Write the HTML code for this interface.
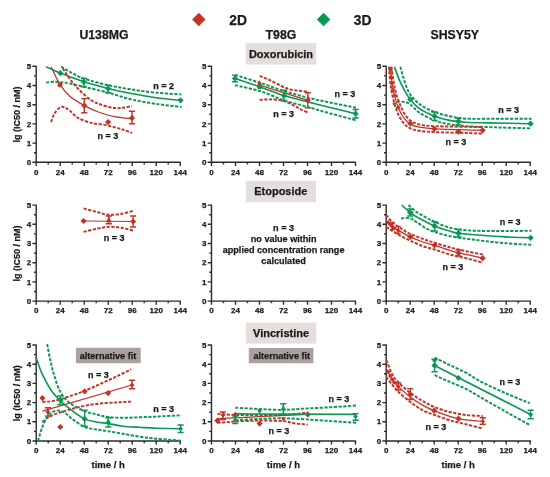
<!DOCTYPE html>
<html><head><meta charset="utf-8"><title>IC50 time course</title>
<style>
html,body{margin:0;padding:0;background:#fff;}
body{width:550px;height:477px;overflow:hidden;}
svg{display:block;filter:blur(0.3px);}
svg text{font-family:"Liberation Sans",Arial,Helvetica,sans-serif;font-weight:bold;fill:#1a1a1a;stroke:#1a1a1a;stroke-width:0.25px;}
</style></head><body>
<svg width="550" height="477" viewBox="0 0 550 477">
<rect width="550" height="477" fill="#ffffff"/>
<text x="104.0" y="39.2" font-size="12.3" text-anchor="middle">U138MG</text>
<text x="281.0" y="38.6" font-size="12.3" text-anchor="middle">T98G</text>
<text x="454.8" y="39.0" font-size="12.3" text-anchor="middle">SHSY5Y</text>
<path d="M198.8 12.8 l6.7 6.7 l-6.7 6.7 l-6.7 -6.7z" fill="#c23326"/>
<path d="M323.6 12.8 l6.7 6.7 l-6.7 6.7 l-6.7 -6.7z" fill="#0b9753"/>
<text x="229.3" y="24.7" font-size="13.8" text-anchor="start">2D</text>
<text x="353.8" y="24.7" font-size="13.8" text-anchor="start">3D</text>
<rect x="245.6" y="43.0" width="70.7" height="21.6" fill="#e4dedc"/>
<text x="281.0" y="57.6" font-size="11" text-anchor="middle">Doxorubicin</text>
<rect x="245.8" y="180.8" width="70.2" height="21.5" fill="#e4dedc"/>
<text x="280.8" y="195.4" font-size="11" text-anchor="middle">Etoposide</text>
<rect x="245.7" y="322.6" width="70.6" height="21.0" fill="#e4dedc"/>
<text x="281.1" y="336.9" font-size="11" text-anchor="middle">Vincristine</text>
<rect x="75.9" y="347.8" width="64.8" height="15.4" fill="#aca09e"/>
<text x="108.0" y="358.6" font-size="9.1" text-anchor="middle">alternative fit</text>
<rect x="248.8" y="348.0" width="64.6" height="15.2" fill="#aca09e"/>
<text x="281.8" y="358.6" font-size="9.1" text-anchor="middle">alternative fit</text>
<path d="M36.2 65.7V162.9M35.6 162.3H180.8M36.2 162.3v3.6M48.2 162.3v2.2M60.2 162.3v3.6M72.2 162.3v2.2M84.2 162.3v3.6M96.2 162.3v2.2M108.2 162.3v3.6M120.2 162.3v2.2M132.2 162.3v3.6M144.2 162.3v2.2M156.2 162.3v3.6M168.2 162.3v2.2M180.2 162.3v3.6M36.2 162.3h-3.8M36.2 152.7h-2.2M36.2 143.1h-3.8M36.2 133.5h-2.2M36.2 123.9h-3.8M36.2 114.3h-2.2M36.2 104.7h-3.8M36.2 95.1h-2.2M36.2 85.5h-3.8M36.2 75.9h-2.2M36.2 66.3h-3.8" fill="none" stroke="#2b2b2b" stroke-width="1.4"/>
<text x="36.2" y="174.5" font-size="8" text-anchor="middle">0</text>
<text x="60.2" y="174.5" font-size="8" text-anchor="middle">24</text>
<text x="84.2" y="174.5" font-size="8" text-anchor="middle">48</text>
<text x="108.2" y="174.5" font-size="8" text-anchor="middle">72</text>
<text x="132.2" y="174.5" font-size="8" text-anchor="middle">96</text>
<text x="156.2" y="174.5" font-size="8" text-anchor="middle">120</text>
<text x="180.2" y="174.5" font-size="8" text-anchor="middle">144</text>
<text x="31.2" y="164.9" font-size="8" text-anchor="end">0</text>
<text x="31.2" y="145.7" font-size="8" text-anchor="end">1</text>
<text x="31.2" y="126.5" font-size="8" text-anchor="end">2</text>
<text x="31.2" y="107.3" font-size="8" text-anchor="end">3</text>
<text x="31.2" y="88.1" font-size="8" text-anchor="end">4</text>
<text x="31.2" y="68.9" font-size="8" text-anchor="end">5</text>
<text transform="translate(19.9 114.6) rotate(-90)" font-size="9" text-anchor="middle">lg (IC50 / nM)</text>
<path d="M211.5 65.7V162.9M210.9 162.3H356.1M211.5 162.3v3.6M223.5 162.3v2.2M235.5 162.3v3.6M247.5 162.3v2.2M259.5 162.3v3.6M271.5 162.3v2.2M283.5 162.3v3.6M295.5 162.3v2.2M307.5 162.3v3.6M319.5 162.3v2.2M331.5 162.3v3.6M343.5 162.3v2.2M355.5 162.3v3.6M211.5 162.3h-3.8M211.5 152.7h-2.2M211.5 143.1h-3.8M211.5 133.5h-2.2M211.5 123.9h-3.8M211.5 114.3h-2.2M211.5 104.7h-3.8M211.5 95.1h-2.2M211.5 85.5h-3.8M211.5 75.9h-2.2M211.5 66.3h-3.8" fill="none" stroke="#2b2b2b" stroke-width="1.4"/>
<text x="211.5" y="174.5" font-size="8" text-anchor="middle">0</text>
<text x="235.5" y="174.5" font-size="8" text-anchor="middle">24</text>
<text x="259.5" y="174.5" font-size="8" text-anchor="middle">48</text>
<text x="283.5" y="174.5" font-size="8" text-anchor="middle">72</text>
<text x="307.5" y="174.5" font-size="8" text-anchor="middle">96</text>
<text x="331.5" y="174.5" font-size="8" text-anchor="middle">120</text>
<text x="355.5" y="174.5" font-size="8" text-anchor="middle">144</text>
<text x="206.5" y="164.9" font-size="8" text-anchor="end">0</text>
<text x="206.5" y="145.7" font-size="8" text-anchor="end">1</text>
<text x="206.5" y="126.5" font-size="8" text-anchor="end">2</text>
<text x="206.5" y="107.3" font-size="8" text-anchor="end">3</text>
<text x="206.5" y="88.1" font-size="8" text-anchor="end">4</text>
<text x="206.5" y="68.9" font-size="8" text-anchor="end">5</text>
<path d="M386.2 65.7V162.9M385.6 162.3H530.8M386.2 162.3v3.6M398.2 162.3v2.2M410.2 162.3v3.6M422.2 162.3v2.2M434.2 162.3v3.6M446.2 162.3v2.2M458.2 162.3v3.6M470.2 162.3v2.2M482.2 162.3v3.6M494.2 162.3v2.2M506.2 162.3v3.6M518.2 162.3v2.2M530.2 162.3v3.6M386.2 162.3h-3.8M386.2 152.7h-2.2M386.2 143.1h-3.8M386.2 133.5h-2.2M386.2 123.9h-3.8M386.2 114.3h-2.2M386.2 104.7h-3.8M386.2 95.1h-2.2M386.2 85.5h-3.8M386.2 75.9h-2.2M386.2 66.3h-3.8" fill="none" stroke="#2b2b2b" stroke-width="1.4"/>
<text x="386.2" y="174.5" font-size="8" text-anchor="middle">0</text>
<text x="410.2" y="174.5" font-size="8" text-anchor="middle">24</text>
<text x="434.2" y="174.5" font-size="8" text-anchor="middle">48</text>
<text x="458.2" y="174.5" font-size="8" text-anchor="middle">72</text>
<text x="482.2" y="174.5" font-size="8" text-anchor="middle">96</text>
<text x="506.2" y="174.5" font-size="8" text-anchor="middle">120</text>
<text x="530.2" y="174.5" font-size="8" text-anchor="middle">144</text>
<text x="381.2" y="164.9" font-size="8" text-anchor="end">0</text>
<text x="381.2" y="145.7" font-size="8" text-anchor="end">1</text>
<text x="381.2" y="126.5" font-size="8" text-anchor="end">2</text>
<text x="381.2" y="107.3" font-size="8" text-anchor="end">3</text>
<text x="381.2" y="88.1" font-size="8" text-anchor="end">4</text>
<text x="381.2" y="68.9" font-size="8" text-anchor="end">5</text>
<path d="M36.2 204.5V301.7M35.6 301.1H180.8M36.2 301.1v3.6M48.2 301.1v2.2M60.2 301.1v3.6M72.2 301.1v2.2M84.2 301.1v3.6M96.2 301.1v2.2M108.2 301.1v3.6M120.2 301.1v2.2M132.2 301.1v3.6M144.2 301.1v2.2M156.2 301.1v3.6M168.2 301.1v2.2M180.2 301.1v3.6M36.2 301.1h-3.8M36.2 291.5h-2.2M36.2 281.9h-3.8M36.2 272.3h-2.2M36.2 262.7h-3.8M36.2 253.1h-2.2M36.2 243.5h-3.8M36.2 233.9h-2.2M36.2 224.3h-3.8M36.2 214.7h-2.2M36.2 205.1h-3.8" fill="none" stroke="#2b2b2b" stroke-width="1.4"/>
<text x="36.2" y="313.3" font-size="8" text-anchor="middle">0</text>
<text x="60.2" y="313.3" font-size="8" text-anchor="middle">24</text>
<text x="84.2" y="313.3" font-size="8" text-anchor="middle">48</text>
<text x="108.2" y="313.3" font-size="8" text-anchor="middle">72</text>
<text x="132.2" y="313.3" font-size="8" text-anchor="middle">96</text>
<text x="156.2" y="313.3" font-size="8" text-anchor="middle">120</text>
<text x="180.2" y="313.3" font-size="8" text-anchor="middle">144</text>
<text x="31.2" y="303.7" font-size="8" text-anchor="end">0</text>
<text x="31.2" y="284.5" font-size="8" text-anchor="end">1</text>
<text x="31.2" y="265.3" font-size="8" text-anchor="end">2</text>
<text x="31.2" y="246.1" font-size="8" text-anchor="end">3</text>
<text x="31.2" y="226.9" font-size="8" text-anchor="end">4</text>
<text x="31.2" y="207.7" font-size="8" text-anchor="end">5</text>
<text transform="translate(19.9 253.4) rotate(-90)" font-size="9" text-anchor="middle">lg (IC50 / nM)</text>
<path d="M211.5 204.5V301.7M210.9 301.1H356.1M211.5 301.1v3.6M223.5 301.1v2.2M235.5 301.1v3.6M247.5 301.1v2.2M259.5 301.1v3.6M271.5 301.1v2.2M283.5 301.1v3.6M295.5 301.1v2.2M307.5 301.1v3.6M319.5 301.1v2.2M331.5 301.1v3.6M343.5 301.1v2.2M355.5 301.1v3.6M211.5 301.1h-3.8M211.5 291.5h-2.2M211.5 281.9h-3.8M211.5 272.3h-2.2M211.5 262.7h-3.8M211.5 253.1h-2.2M211.5 243.5h-3.8M211.5 233.9h-2.2M211.5 224.3h-3.8M211.5 214.7h-2.2M211.5 205.1h-3.8" fill="none" stroke="#2b2b2b" stroke-width="1.4"/>
<text x="211.5" y="313.3" font-size="8" text-anchor="middle">0</text>
<text x="235.5" y="313.3" font-size="8" text-anchor="middle">24</text>
<text x="259.5" y="313.3" font-size="8" text-anchor="middle">48</text>
<text x="283.5" y="313.3" font-size="8" text-anchor="middle">72</text>
<text x="307.5" y="313.3" font-size="8" text-anchor="middle">96</text>
<text x="331.5" y="313.3" font-size="8" text-anchor="middle">120</text>
<text x="355.5" y="313.3" font-size="8" text-anchor="middle">144</text>
<text x="206.5" y="303.7" font-size="8" text-anchor="end">0</text>
<text x="206.5" y="284.5" font-size="8" text-anchor="end">1</text>
<text x="206.5" y="265.3" font-size="8" text-anchor="end">2</text>
<text x="206.5" y="246.1" font-size="8" text-anchor="end">3</text>
<text x="206.5" y="226.9" font-size="8" text-anchor="end">4</text>
<text x="206.5" y="207.7" font-size="8" text-anchor="end">5</text>
<path d="M386.2 204.5V301.7M385.6 301.1H530.8M386.2 301.1v3.6M398.2 301.1v2.2M410.2 301.1v3.6M422.2 301.1v2.2M434.2 301.1v3.6M446.2 301.1v2.2M458.2 301.1v3.6M470.2 301.1v2.2M482.2 301.1v3.6M494.2 301.1v2.2M506.2 301.1v3.6M518.2 301.1v2.2M530.2 301.1v3.6M386.2 301.1h-3.8M386.2 291.5h-2.2M386.2 281.9h-3.8M386.2 272.3h-2.2M386.2 262.7h-3.8M386.2 253.1h-2.2M386.2 243.5h-3.8M386.2 233.9h-2.2M386.2 224.3h-3.8M386.2 214.7h-2.2M386.2 205.1h-3.8" fill="none" stroke="#2b2b2b" stroke-width="1.4"/>
<text x="386.2" y="313.3" font-size="8" text-anchor="middle">0</text>
<text x="410.2" y="313.3" font-size="8" text-anchor="middle">24</text>
<text x="434.2" y="313.3" font-size="8" text-anchor="middle">48</text>
<text x="458.2" y="313.3" font-size="8" text-anchor="middle">72</text>
<text x="482.2" y="313.3" font-size="8" text-anchor="middle">96</text>
<text x="506.2" y="313.3" font-size="8" text-anchor="middle">120</text>
<text x="530.2" y="313.3" font-size="8" text-anchor="middle">144</text>
<text x="381.2" y="303.7" font-size="8" text-anchor="end">0</text>
<text x="381.2" y="284.5" font-size="8" text-anchor="end">1</text>
<text x="381.2" y="265.3" font-size="8" text-anchor="end">2</text>
<text x="381.2" y="246.1" font-size="8" text-anchor="end">3</text>
<text x="381.2" y="226.9" font-size="8" text-anchor="end">4</text>
<text x="381.2" y="207.7" font-size="8" text-anchor="end">5</text>
<path d="M36.2 344.4V441.6M35.6 441.0H180.8M36.2 441.0v3.6M48.2 441.0v2.2M60.2 441.0v3.6M72.2 441.0v2.2M84.2 441.0v3.6M96.2 441.0v2.2M108.2 441.0v3.6M120.2 441.0v2.2M132.2 441.0v3.6M144.2 441.0v2.2M156.2 441.0v3.6M168.2 441.0v2.2M180.2 441.0v3.6M36.2 441.0h-3.8M36.2 431.4h-2.2M36.2 421.8h-3.8M36.2 412.2h-2.2M36.2 402.6h-3.8M36.2 393.0h-2.2M36.2 383.4h-3.8M36.2 373.8h-2.2M36.2 364.2h-3.8M36.2 354.6h-2.2M36.2 345.0h-3.8" fill="none" stroke="#2b2b2b" stroke-width="1.4"/>
<text x="36.2" y="453.2" font-size="8" text-anchor="middle">0</text>
<text x="60.2" y="453.2" font-size="8" text-anchor="middle">24</text>
<text x="84.2" y="453.2" font-size="8" text-anchor="middle">48</text>
<text x="108.2" y="453.2" font-size="8" text-anchor="middle">72</text>
<text x="132.2" y="453.2" font-size="8" text-anchor="middle">96</text>
<text x="156.2" y="453.2" font-size="8" text-anchor="middle">120</text>
<text x="180.2" y="453.2" font-size="8" text-anchor="middle">144</text>
<text x="31.2" y="443.6" font-size="8" text-anchor="end">0</text>
<text x="31.2" y="424.4" font-size="8" text-anchor="end">1</text>
<text x="31.2" y="405.2" font-size="8" text-anchor="end">2</text>
<text x="31.2" y="386.0" font-size="8" text-anchor="end">3</text>
<text x="31.2" y="366.8" font-size="8" text-anchor="end">4</text>
<text x="31.2" y="347.6" font-size="8" text-anchor="end">5</text>
<text transform="translate(19.9 393.3) rotate(-90)" font-size="9" text-anchor="middle">lg (IC50 / nM)</text>
<text x="108.2" y="468.0" font-size="9.5" text-anchor="middle">time / h</text>
<path d="M211.5 344.4V441.6M210.9 441.0H356.1M211.5 441.0v3.6M223.5 441.0v2.2M235.5 441.0v3.6M247.5 441.0v2.2M259.5 441.0v3.6M271.5 441.0v2.2M283.5 441.0v3.6M295.5 441.0v2.2M307.5 441.0v3.6M319.5 441.0v2.2M331.5 441.0v3.6M343.5 441.0v2.2M355.5 441.0v3.6M211.5 441.0h-3.8M211.5 431.4h-2.2M211.5 421.8h-3.8M211.5 412.2h-2.2M211.5 402.6h-3.8M211.5 393.0h-2.2M211.5 383.4h-3.8M211.5 373.8h-2.2M211.5 364.2h-3.8M211.5 354.6h-2.2M211.5 345.0h-3.8" fill="none" stroke="#2b2b2b" stroke-width="1.4"/>
<text x="211.5" y="453.2" font-size="8" text-anchor="middle">0</text>
<text x="235.5" y="453.2" font-size="8" text-anchor="middle">24</text>
<text x="259.5" y="453.2" font-size="8" text-anchor="middle">48</text>
<text x="283.5" y="453.2" font-size="8" text-anchor="middle">72</text>
<text x="307.5" y="453.2" font-size="8" text-anchor="middle">96</text>
<text x="331.5" y="453.2" font-size="8" text-anchor="middle">120</text>
<text x="355.5" y="453.2" font-size="8" text-anchor="middle">144</text>
<text x="206.5" y="443.6" font-size="8" text-anchor="end">0</text>
<text x="206.5" y="424.4" font-size="8" text-anchor="end">1</text>
<text x="206.5" y="405.2" font-size="8" text-anchor="end">2</text>
<text x="206.5" y="386.0" font-size="8" text-anchor="end">3</text>
<text x="206.5" y="366.8" font-size="8" text-anchor="end">4</text>
<text x="206.5" y="347.6" font-size="8" text-anchor="end">5</text>
<text x="283.5" y="468.0" font-size="9.5" text-anchor="middle">time / h</text>
<path d="M386.2 344.4V441.6M385.6 441.0H530.8M386.2 441.0v3.6M398.2 441.0v2.2M410.2 441.0v3.6M422.2 441.0v2.2M434.2 441.0v3.6M446.2 441.0v2.2M458.2 441.0v3.6M470.2 441.0v2.2M482.2 441.0v3.6M494.2 441.0v2.2M506.2 441.0v3.6M518.2 441.0v2.2M530.2 441.0v3.6M386.2 441.0h-3.8M386.2 431.4h-2.2M386.2 421.8h-3.8M386.2 412.2h-2.2M386.2 402.6h-3.8M386.2 393.0h-2.2M386.2 383.4h-3.8M386.2 373.8h-2.2M386.2 364.2h-3.8M386.2 354.6h-2.2M386.2 345.0h-3.8" fill="none" stroke="#2b2b2b" stroke-width="1.4"/>
<text x="386.2" y="453.2" font-size="8" text-anchor="middle">0</text>
<text x="410.2" y="453.2" font-size="8" text-anchor="middle">24</text>
<text x="434.2" y="453.2" font-size="8" text-anchor="middle">48</text>
<text x="458.2" y="453.2" font-size="8" text-anchor="middle">72</text>
<text x="482.2" y="453.2" font-size="8" text-anchor="middle">96</text>
<text x="506.2" y="453.2" font-size="8" text-anchor="middle">120</text>
<text x="530.2" y="453.2" font-size="8" text-anchor="middle">144</text>
<text x="381.2" y="443.6" font-size="8" text-anchor="end">0</text>
<text x="381.2" y="424.4" font-size="8" text-anchor="end">1</text>
<text x="381.2" y="405.2" font-size="8" text-anchor="end">2</text>
<text x="381.2" y="386.0" font-size="8" text-anchor="end">3</text>
<text x="381.2" y="366.8" font-size="8" text-anchor="end">4</text>
<text x="381.2" y="347.6" font-size="8" text-anchor="end">5</text>
<text x="458.2" y="468.0" font-size="9.5" text-anchor="middle">time / h</text>
<path d="M61.2 66.7 C62.6 67.5 65.7 69.8 69.5 71.7 C73.3 73.7 77.4 76.2 83.8 78.4 C90.2 80.7 100.2 83.4 108.1 85.2 C116.0 87.0 123.2 88.2 131.2 89.4 C139.2 90.7 147.9 91.9 156.3 92.7 C164.7 93.5 177.3 94.1 181.5 94.4" fill="none" stroke="#0b9753" stroke-width="1.95" stroke-dasharray="3.2 1.5"/>
<path d="M46.1 82.6 C47.2 82.5 50.4 81.9 52.8 81.8 C55.2 81.7 57.5 81.8 60.3 82.1 C63.1 82.4 65.6 82.7 69.5 83.5 C73.4 84.3 77.4 85.3 83.8 86.8 C90.2 88.3 100.2 90.6 108.1 92.7 C116.0 94.8 123.2 97.5 131.2 99.4 C139.2 101.3 147.9 102.6 156.3 103.9 C164.7 105.2 177.3 106.5 181.5 107.0" fill="none" stroke="#0b9753" stroke-width="1.95" stroke-dasharray="3.2 1.5"/>
<path d="M46.1 66.7 C48.5 67.8 54.0 70.6 60.3 73.1 C66.6 75.6 75.8 79.2 83.8 81.8 C91.8 84.4 100.2 86.5 108.1 88.5 C116.0 90.5 123.2 92.0 131.2 93.5 C139.2 95.0 148.1 96.6 156.3 97.7 C164.5 98.8 176.6 99.9 180.6 100.3" fill="none" stroke="#0b9753" stroke-width="1.6"/>
<path d="M62.8 68.4 C63.9 70.1 67.0 75.1 69.5 78.4 C72.0 81.8 74.3 84.8 77.9 88.5 C81.5 92.2 87.1 97.5 91.3 100.3 C95.5 103.1 99.2 104.0 103.1 105.3 C106.9 106.6 111.1 107.6 114.4 108.0 C117.7 108.4 119.9 108.1 122.8 107.8 C125.7 107.5 130.5 106.4 132.0 106.1" fill="none" stroke="#c23326" stroke-width="1.95" stroke-dasharray="3.2 1.5"/>
<path d="M51.1 122.1 C51.6 120.7 53.0 116.1 54.4 113.7 C55.8 111.3 58.0 108.9 59.5 107.8 C61.0 106.7 62.0 106.6 63.7 107.0 C65.4 107.4 67.1 108.5 69.5 110.3 C71.9 112.1 74.3 115.8 77.9 117.9 C81.5 120.0 87.1 121.8 91.3 122.9 C95.5 124.0 99.2 123.9 103.1 124.6 C106.9 125.3 111.1 126.3 114.4 127.1 C117.7 127.9 119.9 128.6 122.8 129.6 C125.7 130.6 130.5 132.4 132.0 133.0" fill="none" stroke="#c23326" stroke-width="1.95" stroke-dasharray="3.2 1.5"/>
<path d="M51.1 66.7 C52.6 69.7 56.9 79.8 60.0 84.7 C63.1 89.6 65.5 92.5 69.5 96.0 C73.5 99.5 79.3 102.8 84.3 105.6 C89.3 108.3 94.4 110.6 99.7 112.5 C105.0 114.4 110.6 115.9 116.0 116.9 C121.4 117.9 129.3 118.4 132.0 118.7" fill="none" stroke="#c23326" stroke-width="1.25"/>
<path d="M84.3 98.6V112.8M81.2 98.6h6.2M81.2 112.8h6.2" fill="none" stroke="#c23326" stroke-width="1.45"/>
<path d="M132.0 111.2V123.7M128.9 111.2h6.2M128.9 123.7h6.2" fill="none" stroke="#c23326" stroke-width="1.45"/>
<circle cx="60.0" cy="84.7" r="2.5" fill="#c23326"/>
<path d="M84.3 102.5 l3.1 3.1 l-3.1 3.1 l-3.1 -3.1z" fill="#c23326"/>
<path d="M108.1 119.0 l3.1 3.1 l-3.1 3.1 l-3.1 -3.1z" fill="#c23326"/>
<path d="M132.0 114.8 l3.1 3.1 l-3.1 3.1 l-3.1 -3.1z" fill="#c23326"/>
<path d="M83.8 78.4V86.8M80.7 78.4h6.2M80.7 86.8h6.2" fill="none" stroke="#0b9753" stroke-width="1.45"/>
<path d="M108.1 85.2V92.7M105.0 85.2h6.2M105.0 92.7h6.2" fill="none" stroke="#0b9753" stroke-width="1.45"/>
<path d="M60.3 70.0 l3.1 3.1 l-3.1 3.1 l-3.1 -3.1z" fill="#0b9753"/>
<path d="M83.8 78.7 l3.1 3.1 l-3.1 3.1 l-3.1 -3.1z" fill="#0b9753"/>
<path d="M108.1 85.4 l3.1 3.1 l-3.1 3.1 l-3.1 -3.1z" fill="#0b9753"/>
<path d="M180.6 97.2 l3.1 3.1 l-3.1 3.1 l-3.1 -3.1z" fill="#0b9753"/>
<text x="163.7" y="88.7" font-size="9" text-anchor="middle">n = 2</text>
<text x="108.0" y="138.9" font-size="9" text-anchor="middle">n = 3</text>
<path d="M259.6 75.9 C261.3 76.6 266.1 78.4 269.7 80.1 C273.3 81.8 277.8 84.4 281.4 86.0 C284.9 87.6 287.7 88.8 291.0 89.6 C294.3 90.4 298.1 90.6 301.0 91.0 C303.9 91.4 307.4 91.8 308.7 91.9" fill="none" stroke="#c23326" stroke-width="1.95" stroke-dasharray="3.2 1.5"/>
<path d="M259.6 99.9 C261.3 99.8 266.1 99.3 269.7 99.4 C273.3 99.5 277.8 99.5 281.4 100.3 C284.9 101.1 287.7 102.5 291.0 104.0 C294.3 105.5 298.1 108.0 301.0 109.5 C303.9 111.0 307.4 112.2 308.7 112.8" fill="none" stroke="#c23326" stroke-width="1.95" stroke-dasharray="3.2 1.5"/>
<path d="M259.6 85.2 L307.8 100.3" fill="none" stroke="#c23326" stroke-width="1.25"/>
<path d="M307.8 92.7V107.8M304.7 92.7h6.2M304.7 107.8h6.2" fill="none" stroke="#c23326" stroke-width="1.45"/>
<path d="M235.0 75.1 C239.1 76.3 251.4 79.9 259.6 82.6 C267.8 85.2 276.0 88.5 284.0 91.0 C292.0 93.5 299.9 95.7 307.8 97.7 C315.7 99.7 323.2 101.1 331.3 102.8 C339.4 104.5 352.3 107.0 356.5 107.8" fill="none" stroke="#0b9753" stroke-width="1.95" stroke-dasharray="3.2 1.5"/>
<path d="M235.0 85.2 C239.1 86.2 251.4 88.5 259.6 91.0 C267.8 93.5 276.0 97.6 284.0 100.3 C292.0 103.0 299.9 104.8 307.8 107.0 C315.7 109.2 323.2 111.5 331.3 113.7 C339.4 115.9 352.3 119.3 356.5 120.4" fill="none" stroke="#0b9753" stroke-width="1.95" stroke-dasharray="3.2 1.5"/>
<path d="M235.0 78.4 C239.1 79.8 251.4 83.9 259.6 86.8 C267.8 89.7 276.0 93.1 284.0 95.6 C292.0 98.1 299.9 99.9 307.8 101.9 C315.7 103.9 323.3 105.8 331.3 107.8 C339.3 109.8 351.6 112.7 355.6 113.7" fill="none" stroke="#0b9753" stroke-width="1.6"/>
<path d="M235.0 75.1V81.8M231.9 75.1h6.2M231.9 81.8h6.2" fill="none" stroke="#0b9753" stroke-width="1.45"/>
<path d="M284.0 90.2V101.1M280.9 90.2h6.2M280.9 101.1h6.2" fill="none" stroke="#0b9753" stroke-width="1.45"/>
<path d="M355.6 109.5V117.9M352.5 109.5h6.2M352.5 117.9h6.2" fill="none" stroke="#0b9753" stroke-width="1.45"/>
<path d="M235.0 75.3 l3.1 3.1 l-3.1 3.1 l-3.1 -3.1z" fill="#0b9753"/>
<circle cx="259.6" cy="86.6" r="2.6" fill="#0b9753"/>
<path d="M284.0 92.5 l3.1 3.1 l-3.1 3.1 l-3.1 -3.1z" fill="#0b9753"/>
<path d="M355.6 110.6 l3.1 3.1 l-3.1 3.1 l-3.1 -3.1z" fill="#0b9753"/>
<path d="M259.6 80.3 l2.5 4.5 h-5.0z" fill="#c23326"/>
<path d="M307.8 97.2 l3.1 3.1 l-3.1 3.1 l-3.1 -3.1z" fill="#c23326"/>
<text x="345.0" y="96.9" font-size="9" text-anchor="middle">n = 3</text>
<text x="283.7" y="116.7" font-size="9" text-anchor="middle">n = 3</text>
<path d="M400.3 66.7 C400.9 68.7 402.4 74.5 403.6 78.4 C404.9 82.3 406.3 87.0 407.8 90.2 C409.3 93.4 410.6 95.2 412.8 97.7 C415.0 100.2 417.6 102.9 421.2 105.3 C424.8 107.7 429.9 110.2 434.6 112.0 C439.4 113.8 444.5 115.1 449.7 116.2 C454.9 117.3 457.9 118.3 466.0 118.7 C474.1 119.1 487.1 118.7 498.0 118.7 C508.9 118.7 525.9 118.7 531.5 118.7" fill="none" stroke="#0b9753" stroke-width="1.95" stroke-dasharray="3.2 1.5"/>
<path d="M392.7 104.4 C393.5 104.0 395.8 102.3 397.7 101.9 C399.6 101.5 402.3 101.5 404.4 101.9 C406.5 102.3 407.8 102.6 410.3 104.4 C412.8 106.2 415.4 110.1 419.5 112.8 C423.6 115.5 429.6 118.5 434.6 120.4 C439.6 122.3 444.5 123.4 449.7 124.4 C454.9 125.4 457.9 125.7 466.0 126.2 C474.1 126.7 487.1 127.0 498.0 127.4 C508.9 127.8 525.9 128.2 531.5 128.4" fill="none" stroke="#0b9753" stroke-width="1.95" stroke-dasharray="3.2 1.5"/>
<path d="M394.4 66.7 C395.2 68.9 397.7 76.2 399.4 80.1 C401.1 84.0 402.6 87.0 404.4 90.2 C406.2 93.4 407.8 96.3 410.3 99.4 C412.8 102.5 415.4 105.8 419.5 108.6 C423.6 111.4 429.6 114.2 434.6 116.2 C439.6 118.2 444.5 119.4 449.7 120.4 C454.9 121.4 459.4 121.9 466.0 122.3 C472.6 122.7 478.7 122.7 489.5 122.9 C500.3 123.1 523.8 123.6 530.6 123.7" fill="none" stroke="#0b9753" stroke-width="1.6"/>
<path d="M391.4 66.7 C391.8 69.2 392.8 77.3 393.6 81.8 C394.4 86.3 395.0 89.6 396.1 93.5 C397.2 97.4 398.6 101.5 400.3 105.3 C402.0 109.1 404.0 113.4 406.1 116.2 C408.2 119.0 410.0 120.6 412.8 122.1 C415.6 123.6 419.0 124.4 422.9 125.1 C426.8 125.8 429.1 125.9 436.3 126.2 C443.5 126.5 458.2 126.7 466.0 126.8 C473.8 126.9 480.0 127.0 482.8 127.1" fill="none" stroke="#c23326" stroke-width="1.95" stroke-dasharray="3.2 1.5"/>
<path d="M389.0 66.7 C389.2 69.2 389.6 76.8 390.2 81.8 C390.8 86.8 391.6 92.0 392.7 96.9 C393.8 101.8 395.2 107.0 396.9 111.2 C398.6 115.4 400.7 119.3 402.8 122.1 C404.9 124.9 406.7 126.5 409.5 127.9 C412.3 129.4 415.3 130.1 419.5 130.8 C423.7 131.5 426.9 131.7 434.6 132.1 C442.4 132.5 458.0 132.8 466.0 133.0 C474.0 133.2 480.0 133.5 482.8 133.6" fill="none" stroke="#c23326" stroke-width="1.95" stroke-dasharray="3.2 1.5"/>
<path d="M390.2 66.7 C390.5 69.2 391.2 77.0 391.9 81.8 C392.6 86.5 393.3 90.7 394.4 95.2 C395.5 99.7 396.9 104.7 398.6 108.6 C400.3 112.5 402.3 116.0 404.4 118.7 C406.5 121.4 408.7 123.2 411.2 124.6 C413.7 126.0 415.6 126.4 419.5 127.1 C423.4 127.8 426.9 128.4 434.6 128.8 C442.4 129.2 458.0 129.6 466.0 129.8 C474.0 130.1 480.0 130.2 482.8 130.3" fill="none" stroke="#c23326" stroke-width="1.25"/>
<path d="M390.5 67.7 l2.3 2.3 l-2.3 2.3 l-2.3 -2.3z" fill="#c23326"/>
<path d="M391.2 74.7 l2.3 2.3 l-2.3 2.3 l-2.3 -2.3z" fill="#c23326"/>
<path d="M392.0 81.2 l2.3 2.3 l-2.3 2.3 l-2.3 -2.3z" fill="#c23326"/>
<path d="M393.0 87.7 l2.3 2.3 l-2.3 2.3 l-2.3 -2.3z" fill="#c23326"/>
<path d="M394.5 93.2 l2.3 2.3 l-2.3 2.3 l-2.3 -2.3z" fill="#c23326"/>
<path d="M398.2 105.2 l2.3 2.3 l-2.3 2.3 l-2.3 -2.3z" fill="#c23326"/>
<path d="M410.3 120.4 l3.1 3.1 l-3.1 3.1 l-3.1 -3.1z" fill="#c23326"/>
<path d="M434.2 125.7 l3.1 3.1 l-3.1 3.1 l-3.1 -3.1z" fill="#c23326"/>
<path d="M458.5 128.5 l3.1 3.1 l-3.1 3.1 l-3.1 -3.1z" fill="#c23326"/>
<path d="M482.6 127.2 l3.1 3.1 l-3.1 3.1 l-3.1 -3.1z" fill="#c23326"/>
<path d="M434.6 112.0V120.4M431.5 112.0h6.2M431.5 120.4h6.2" fill="none" stroke="#0b9753" stroke-width="1.45"/>
<path d="M458.4 117.9V124.6M455.3 117.9h6.2M455.3 124.6h6.2" fill="none" stroke="#0b9753" stroke-width="1.45"/>
<path d="M410.3 96.3 l3.1 3.1 l-3.1 3.1 l-3.1 -3.1z" fill="#0b9753"/>
<path d="M434.6 113.1 l3.1 3.1 l-3.1 3.1 l-3.1 -3.1z" fill="#0b9753"/>
<path d="M458.4 118.1 l3.1 3.1 l-3.1 3.1 l-3.1 -3.1z" fill="#0b9753"/>
<path d="M530.6 120.6 l3.1 3.1 l-3.1 3.1 l-3.1 -3.1z" fill="#0b9753"/>
<text x="508.6" y="113.3" font-size="9" text-anchor="middle">n = 3</text>
<text x="455.9" y="145.4" font-size="9" text-anchor="middle">n = 3</text>
<path d="M83.6 208.4 C85.7 209.0 92.0 210.7 96.2 211.8 C100.4 212.9 104.6 214.5 108.8 214.8 C113.0 215.1 117.2 214.5 121.3 213.8 C125.3 213.2 131.1 211.4 133.1 210.9" fill="none" stroke="#c23326" stroke-width="1.95" stroke-dasharray="3.2 1.5"/>
<path d="M83.6 231.9 C85.7 231.4 92.0 229.7 96.2 228.9 C100.4 228.1 104.6 227.1 108.8 226.9 C113.0 226.7 117.2 227.1 121.3 227.7 C125.3 228.3 131.1 230.1 133.1 230.6" fill="none" stroke="#c23326" stroke-width="1.95" stroke-dasharray="3.2 1.5"/>
<path d="M83.6 221.0 L133.1 221.5" fill="none" stroke="#c23326" stroke-width="1.25"/>
<path d="M108.8 216.0V223.8M105.7 216.0h6.2M105.7 223.8h6.2" fill="none" stroke="#c23326" stroke-width="1.45"/>
<path d="M133.1 216.0V226.9M130.0 216.0h6.2M130.0 226.9h6.2" fill="none" stroke="#c23326" stroke-width="1.45"/>
<path d="M83.6 217.9 l3.1 3.1 l-3.1 3.1 l-3.1 -3.1z" fill="#c23326"/>
<path d="M108.8 216.8 l3.0 5.4 h-6.0z" fill="#c23326"/>
<path d="M133.1 218.4 l3.1 3.1 l-3.1 3.1 l-3.1 -3.1z" fill="#c23326"/>
<text x="114.2" y="241.1" font-size="9" text-anchor="middle">n = 3</text>
<text x="283.6" y="231.1" font-size="9.1" text-anchor="middle">n = 3</text>
<text x="283.6" y="241.9" font-size="9.1" text-anchor="middle">no value within</text>
<text x="283.6" y="252.7" font-size="9.1" text-anchor="middle">applied concentration range</text>
<text x="283.6" y="263.6" font-size="9.1" text-anchor="middle">calculated</text>
<path d="M408.6 205.1 C409.9 206.2 413.2 209.7 416.2 211.8 C419.1 213.9 423.2 215.9 426.3 217.6 C429.4 219.3 430.7 220.1 434.6 221.8 C438.5 223.5 444.5 226.3 449.7 227.7 C454.9 229.1 460.8 229.7 466.0 230.2 C471.2 230.7 474.5 230.8 481.2 230.9 C487.9 231.1 497.9 231.1 506.3 231.1 C514.7 231.1 527.3 230.8 531.5 230.7" fill="none" stroke="#0b9753" stroke-width="1.95" stroke-dasharray="3.2 1.5"/>
<path d="M401.1 218.5 C402.5 218.4 407.0 217.5 409.5 218.1 C412.0 218.7 413.4 220.1 416.2 221.8 C419.0 223.5 423.2 226.8 426.3 228.5 C429.4 230.2 430.7 230.6 434.6 231.9 C438.5 233.2 444.5 235.0 449.7 236.1 C454.9 237.2 460.8 237.9 466.0 238.7 C471.2 239.4 474.5 239.8 481.2 240.6 C487.9 241.4 497.9 242.6 506.3 243.3 C514.7 244.0 527.3 244.6 531.5 244.8" fill="none" stroke="#0b9753" stroke-width="1.95" stroke-dasharray="3.2 1.5"/>
<path d="M401.9 205.1 C403.3 206.3 407.4 210.4 410.3 212.6 C413.2 214.8 415.4 216.3 419.5 218.5 C423.6 220.7 429.6 223.9 434.6 226.0 C439.6 228.1 445.6 229.9 449.7 231.1 C453.8 232.3 453.8 232.5 459.0 233.2 C464.2 233.9 473.3 234.7 481.2 235.3 C489.1 235.9 498.1 236.5 506.3 236.9 C514.5 237.3 526.6 237.7 530.6 237.8" fill="none" stroke="#0b9753" stroke-width="1.6"/>
<path d="M386.2 214.8 C387.3 216.1 390.2 220.4 392.7 222.7 C395.2 225.0 398.2 226.6 401.1 228.5 C404.0 230.4 406.7 232.2 410.3 233.9 C413.9 235.6 418.8 237.4 422.9 238.9 C426.9 240.4 430.1 241.4 434.6 242.8 C439.1 244.2 444.5 245.9 449.7 247.3 C454.9 248.7 460.5 250.0 466.0 251.2 C471.5 252.4 480.0 253.9 482.8 254.5" fill="none" stroke="#c23326" stroke-width="1.95" stroke-dasharray="3.2 1.5"/>
<path d="M386.2 226.9 C387.3 227.6 390.2 229.6 392.7 231.1 C395.2 232.6 398.2 234.5 401.1 236.1 C404.0 237.7 406.7 238.9 410.3 240.6 C413.9 242.3 418.8 244.7 422.9 246.2 C426.9 247.7 430.1 248.1 434.6 249.5 C439.1 250.9 444.5 253.1 449.7 254.5 C454.9 255.9 460.5 256.8 466.0 258.2 C471.5 259.6 480.0 261.9 482.8 262.6" fill="none" stroke="#c23326" stroke-width="1.95" stroke-dasharray="3.2 1.5"/>
<path d="M386.2 220.2 C387.3 221.3 390.2 224.9 392.7 226.9 C395.2 228.9 398.2 230.2 401.1 231.9 C404.0 233.6 406.7 235.2 410.3 236.9 C413.9 238.6 418.8 240.6 422.9 242.0 C426.9 243.4 430.1 243.9 434.6 245.3 C439.1 246.7 445.6 249.0 449.7 250.3 C453.8 251.6 456.3 252.2 459.0 252.9 C461.7 253.6 462.0 253.5 466.0 254.4 C470.0 255.3 480.0 257.6 482.8 258.2" fill="none" stroke="#c23326" stroke-width="1.25"/>
<path d="M388.2 220.2 l2.3 2.3 l-2.3 2.3 l-2.3 -2.3z" fill="#c23326"/>
<path d="M390.2 222.2 l2.3 2.3 l-2.3 2.3 l-2.3 -2.3z" fill="#c23326"/>
<path d="M392.2 224.2 l2.3 2.3 l-2.3 2.3 l-2.3 -2.3z" fill="#c23326"/>
<path d="M394.2 225.7 l2.3 2.3 l-2.3 2.3 l-2.3 -2.3z" fill="#c23326"/>
<path d="M398.2 228.2 l2.3 2.3 l-2.3 2.3 l-2.3 -2.3z" fill="#c23326"/>
<path d="M410.3 233.8 l3.1 3.1 l-3.1 3.1 l-3.1 -3.1z" fill="#c23326"/>
<path d="M434.6 242.2 l3.1 3.1 l-3.1 3.1 l-3.1 -3.1z" fill="#c23326"/>
<path d="M458.5 249.8 l3.1 3.1 l-3.1 3.1 l-3.1 -3.1z" fill="#c23326"/>
<path d="M482.6 255.1 l3.1 3.1 l-3.1 3.1 l-3.1 -3.1z" fill="#c23326"/>
<path d="M458.5 250.0V256.0M455.4 250.0h6.2M455.4 256.0h6.2" fill="none" stroke="#c23326" stroke-width="1.45"/>
<path d="M392.2 222.5V229.5M389.8 222.5h4.8M389.8 229.5h4.8" fill="none" stroke="#c23326" stroke-width="1.45"/>
<path d="M398.2 226.5V233.5M395.8 226.5h4.8M395.8 233.5h4.8" fill="none" stroke="#c23326" stroke-width="1.45"/>
<path d="M410.3 209.0V216.0M407.2 209.0h6.2M407.2 216.0h6.2" fill="none" stroke="#0b9753" stroke-width="1.45"/>
<path d="M434.6 221.8V231.0M431.5 221.8h6.2M431.5 231.0h6.2" fill="none" stroke="#0b9753" stroke-width="1.45"/>
<path d="M458.5 229.4V236.9M455.4 229.4h6.2M455.4 236.9h6.2" fill="none" stroke="#0b9753" stroke-width="1.45"/>
<path d="M410.3 209.2 l3.4 3.4 l-3.4 3.4 l-3.4 -3.4z" fill="#0b9753"/>
<path d="M434.6 222.7 l3.3 3.3 l-3.3 3.3 l-3.3 -3.3z" fill="#0b9753"/>
<path d="M458.5 229.9 l3.3 3.3 l-3.3 3.3 l-3.3 -3.3z" fill="#0b9753"/>
<path d="M530.6 234.7 l3.1 3.1 l-3.1 3.1 l-3.1 -3.1z" fill="#0b9753"/>
<text x="453.0" y="270.1" font-size="9" text-anchor="middle">n = 3</text>
<text x="510.2" y="224.9" font-size="9" text-anchor="middle">n = 3</text>
<path d="M42.4 401.8 C43.9 401.7 48.1 401.7 51.1 401.3 C54.1 400.9 56.7 400.3 60.3 399.3 C63.9 398.3 68.9 396.5 72.9 395.1 C77.0 393.7 80.1 392.7 84.6 390.9 C89.1 389.1 94.5 386.6 99.7 384.2 C104.9 381.8 110.8 379.2 116.0 376.7 C121.2 374.2 128.7 370.6 131.2 369.4" fill="none" stroke="#c23326" stroke-width="1.95" stroke-dasharray="3.2 1.5"/>
<path d="M42.4 422.0 C43.3 421.3 45.7 419.1 47.7 417.8 C49.7 416.5 51.6 415.5 54.4 414.4 C57.2 413.3 60.9 412.2 64.5 411.1 C68.2 410.0 71.8 408.8 76.3 407.7 C80.8 406.6 86.3 405.4 91.3 404.6 C96.3 403.8 101.7 403.4 106.4 403.0 C111.1 402.6 115.3 402.5 119.4 402.3 C123.5 402.1 129.2 401.7 131.2 401.6" fill="none" stroke="#c23326" stroke-width="1.95" stroke-dasharray="3.2 1.5"/>
<path d="M42.4 411.1 L132.0 385.0" fill="none" stroke="#c23326" stroke-width="1.25"/>
<path d="M47.9 407.7V416.1M44.8 407.7h6.2M44.8 416.1h6.2" fill="none" stroke="#c23326" stroke-width="1.45"/>
<path d="M132.0 380.3V388.7M128.9 380.3h6.2M128.9 388.7h6.2" fill="none" stroke="#c23326" stroke-width="1.45"/>
<path d="M42.4 395.0 l3.1 3.1 l-3.1 3.1 l-3.1 -3.1z" fill="#c23326"/>
<path d="M47.9 409.6 l2.3 2.3 l-2.3 2.3 l-2.3 -2.3z" fill="#c23326"/>
<path d="M60.3 423.9 l3.1 3.1 l-3.1 3.1 l-3.1 -3.1z" fill="#c23326"/>
<path d="M84.6 388.3 l3.1 3.1 l-3.1 3.1 l-3.1 -3.1z" fill="#c23326"/>
<path d="M108.1 390.0 l3.1 3.1 l-3.1 3.1 l-3.1 -3.1z" fill="#c23326"/>
<path d="M132.0 382.6 l2.4 2.4 l-2.4 2.4 l-2.4 -2.4z" fill="#c23326"/>
<path d="M47.2 344.2 C47.7 346.9 49.1 354.9 50.3 360.2 C51.5 365.5 52.7 370.7 54.4 376.0 C56.1 381.3 57.8 387.4 60.3 391.8 C62.8 396.2 65.5 399.5 69.5 402.7 C73.5 405.9 80.1 409.2 84.6 411.1 C89.1 413.1 92.5 413.4 96.4 414.4 C100.3 415.4 103.7 416.4 108.1 417.0 C112.5 417.6 117.6 417.8 122.8 417.8 C128.0 417.9 133.9 417.5 139.5 417.3 C145.1 417.1 149.3 416.9 156.3 416.6 C163.3 416.3 177.3 415.5 181.5 415.3" fill="none" stroke="#0b9753" stroke-width="1.95" stroke-dasharray="3.2 1.5"/>
<path d="M38.0 441.0 C38.6 438.9 40.4 432.6 41.8 428.7 C43.2 424.8 44.8 420.6 46.6 417.8 C48.4 415.0 50.8 413.1 52.8 411.9 C54.8 410.7 56.6 410.5 58.6 410.6 C60.6 410.7 62.1 411.2 64.5 412.7 C66.9 414.2 69.6 417.0 72.9 419.4 C76.2 421.8 80.7 425.3 84.6 427.0 C88.5 428.7 92.5 428.8 96.4 429.5 C100.3 430.2 103.7 430.5 108.1 431.2 C112.5 431.9 117.6 432.8 122.8 433.7 C128.0 434.6 133.9 435.9 139.5 436.7 C145.1 437.5 149.3 438.0 156.3 438.7 C163.3 439.4 177.3 440.4 181.5 440.7" fill="none" stroke="#0b9753" stroke-width="1.95" stroke-dasharray="3.2 1.5"/>
<path d="M36.4 358.5 C37.5 361.3 40.2 369.9 42.7 375.2 C45.2 380.5 48.2 386.0 51.1 390.2 C54.0 394.4 57.2 397.5 60.3 400.6 C63.4 403.7 65.5 405.6 69.5 408.6 C73.5 411.7 80.1 416.7 84.6 418.9 C89.1 421.1 92.4 421.2 96.4 422.0 C100.4 422.8 104.1 422.9 108.5 423.6 C112.9 424.3 117.6 425.6 122.8 426.2 C128.0 426.8 133.9 427.0 139.5 427.3 C145.1 427.6 149.5 428.0 156.3 428.2 C163.2 428.4 176.6 428.6 180.6 428.7" fill="none" stroke="#0b9753" stroke-width="1.6"/>
<path d="M60.3 396.0V404.4M57.2 396.0h6.2M57.2 404.4h6.2" fill="none" stroke="#0b9753" stroke-width="1.45"/>
<path d="M84.6 410.2V426.2M81.5 410.2h6.2M81.5 426.2h6.2" fill="none" stroke="#0b9753" stroke-width="1.45"/>
<path d="M108.3 417.8V427.0M105.2 417.8h6.2M105.2 427.0h6.2" fill="none" stroke="#0b9753" stroke-width="1.45"/>
<path d="M180.6 425.0V432.4M177.5 425.0h6.2M177.5 432.4h6.2" fill="none" stroke="#0b9753" stroke-width="1.45"/>
<path d="M60.3 397.1 l3.1 3.1 l-3.1 3.1 l-3.1 -3.1z" fill="#0b9753"/>
<path d="M84.6 415.8 l3.1 3.1 l-3.1 3.1 l-3.1 -3.1z" fill="#0b9753"/>
<path d="M108.3 418.2 l2.6 4.7 h-5.2z" fill="#0b9753"/>
<path d="M180.6 426.3 l2.4 2.4 l-2.4 2.4 l-2.4 -2.4z" fill="#0b9753"/>
<text x="98.5" y="378.3" font-size="9" text-anchor="middle">n = 3</text>
<text x="163.7" y="411.8" font-size="9" text-anchor="middle">n = 3</text>
<path d="M217.4 413.9 C220.4 414.1 228.3 414.7 235.3 414.9 C242.3 415.1 250.3 415.4 259.6 415.3 C268.9 415.2 283.0 414.9 291.0 414.4 C299.0 413.9 305.0 412.8 307.8 412.5" fill="none" stroke="#c23326" stroke-width="1.95" stroke-dasharray="3.2 1.5"/>
<path d="M217.4 422.8 C220.4 422.6 228.3 422.0 235.3 421.6 C242.3 421.2 251.6 420.7 259.6 420.6 C267.6 420.5 277.3 420.7 283.1 421.1 C288.9 421.6 290.3 422.7 294.4 423.3 C298.5 423.9 305.6 424.4 307.8 424.6" fill="none" stroke="#c23326" stroke-width="1.95" stroke-dasharray="3.2 1.5"/>
<path d="M217.4 418.6 L307.8 414.4" fill="none" stroke="#c23326" stroke-width="1.25"/>
<path d="M222.9 412.0V419.5M219.8 412.0h6.2M219.8 419.5h6.2" fill="none" stroke="#c23326" stroke-width="1.45"/>
<path d="M217.4 417.5 l3.1 3.1 l-3.1 3.1 l-3.1 -3.1z" fill="#c23326"/>
<path d="M222.9 413.0 l2.3 2.3 l-2.3 2.3 l-2.3 -2.3z" fill="#c23326"/>
<path d="M235.3 411.8 l3.1 3.1 l-3.1 3.1 l-3.1 -3.1z" fill="#c23326"/>
<path d="M259.6 420.5 l3.1 3.1 l-3.1 3.1 l-3.1 -3.1z" fill="#c23326"/>
<path d="M307.8 411.3 l3.1 3.1 l-3.1 3.1 l-3.1 -3.1z" fill="#c23326"/>
<path d="M235.3 407.7 C239.4 407.9 251.6 408.6 259.6 409.0 C267.6 409.4 275.3 410.0 283.1 409.9 C290.9 409.8 298.2 408.9 306.2 408.5 C314.2 408.1 322.9 407.7 331.3 407.2 C339.7 406.7 352.3 405.8 356.5 405.5" fill="none" stroke="#0b9753" stroke-width="1.95" stroke-dasharray="3.2 1.5"/>
<path d="M235.3 420.3 C239.4 420.1 251.6 419.2 259.6 418.9 C267.6 418.6 275.3 418.2 283.1 418.3 C290.9 418.4 298.2 418.9 306.2 419.4 C314.2 419.9 322.9 420.5 331.3 421.1 C339.7 421.7 352.3 422.5 356.5 422.8" fill="none" stroke="#0b9753" stroke-width="1.95" stroke-dasharray="3.2 1.5"/>
<path d="M235.3 413.9 L355.6 414.4" fill="none" stroke="#0b9753" stroke-width="1.6"/>
<path d="M235.3 416.1V423.6M232.2 416.1h6.2M232.2 423.6h6.2" fill="none" stroke="#0b9753" stroke-width="1.45"/>
<path d="M283.3 403.8V414.4M280.2 403.8h6.2M280.2 414.4h6.2" fill="none" stroke="#0b9753" stroke-width="1.45"/>
<path d="M355.6 413.6V420.3M352.5 413.6h6.2M352.5 420.3h6.2" fill="none" stroke="#0b9753" stroke-width="1.45"/>
<path d="M235.3 416.4 l2.6 4.7 h-5.2z" fill="#0b9753"/>
<path d="M259.6 414.2 l2.6 -4.7 h-5.2z" fill="#0b9753"/>
<path d="M283.3 405.2 l2.8 5.0 h-5.6z" fill="#0b9753"/>
<path d="M355.6 414.2 l2.4 2.4 l-2.4 2.4 l-2.4 -2.4z" fill="#0b9753"/>
<path d="M283.3 421.8 l2.4 -4.3 h-4.8z" fill="#c23326"/>
<text x="279.0" y="433.7" font-size="9" text-anchor="middle">n = 3</text>
<text x="339.0" y="401.5" font-size="9" text-anchor="middle">n = 3</text>
<path d="M434.6 357.6 C437.1 358.9 444.5 362.6 449.7 365.1 C454.9 367.6 460.8 369.9 466.0 372.7 C471.2 375.5 474.5 378.3 481.2 381.8 C487.9 385.3 498.2 389.9 506.3 393.5 C514.4 397.1 525.9 401.6 529.8 403.2" fill="none" stroke="#0b9753" stroke-width="1.95" stroke-dasharray="3.2 1.5"/>
<path d="M434.6 375.2 C437.1 376.3 444.5 379.6 449.7 381.9 C454.9 384.2 460.8 386.3 466.0 388.9 C471.2 391.5 474.5 393.8 481.2 397.7 C487.9 401.6 498.2 407.4 506.3 412.0 C514.4 416.6 525.9 422.8 529.8 425.0" fill="none" stroke="#0b9753" stroke-width="1.95" stroke-dasharray="3.2 1.5"/>
<path d="M434.6 365.5 L530.6 414.5" fill="none" stroke="#0b9753" stroke-width="1.6"/>
<path d="M434.6 359.3V371.8M431.5 359.3h6.2M431.5 371.8h6.2" fill="none" stroke="#0b9753" stroke-width="1.45"/>
<path d="M530.6 410.3V418.7M527.5 410.3h6.2M527.5 418.7h6.2" fill="none" stroke="#0b9753" stroke-width="1.45"/>
<path d="M434.6 362.3 l3.2 3.2 l-3.2 3.2 l-3.2 -3.2z" fill="#0b9753"/>
<path d="M434.6 358.1 l2.4 2.4 l-2.4 2.4 l-2.4 -2.4z" fill="#0b9753"/>
<path d="M458.5 374.9 l3.0 3.0 l-3.0 3.0 l-3.0 -3.0z" fill="#0b9753"/>
<path d="M530.6 412.0 l2.5 2.5 l-2.5 2.5 l-2.5 -2.5z" fill="#0b9753"/>
<path d="M386.2 360.1 C387.3 362.6 390.6 371.4 392.7 375.2 C394.8 379.0 395.7 379.8 398.6 382.7 C401.5 385.6 406.2 389.7 410.3 392.8 C414.4 395.9 418.8 398.8 422.9 401.2 C426.9 403.6 430.1 405.3 434.6 407.1 C439.1 408.9 444.5 410.7 449.7 412.0 C454.9 413.3 460.5 414.3 466.0 415.0 C471.5 415.7 480.0 415.8 482.8 416.0" fill="none" stroke="#c23326" stroke-width="1.95" stroke-dasharray="3.2 1.5"/>
<path d="M386.2 376.9 C387.3 378.3 390.6 382.8 392.7 385.3 C394.8 387.8 395.7 389.2 398.6 392.0 C401.5 394.8 406.2 398.9 410.3 402.0 C414.4 405.1 418.8 408.2 422.9 410.4 C426.9 412.6 430.1 413.4 434.6 415.0 C439.1 416.6 444.5 418.8 449.7 420.3 C454.9 421.9 460.5 422.9 466.0 424.3 C471.5 425.7 480.0 427.8 482.8 428.5" fill="none" stroke="#c23326" stroke-width="1.95" stroke-dasharray="3.2 1.5"/>
<path d="M386.2 368.5 C387.3 370.4 390.6 377.1 392.7 380.2 C394.8 383.3 395.7 384.1 398.6 386.9 C401.5 389.7 406.2 393.9 410.3 397.0 C414.4 400.1 418.8 403.1 422.9 405.4 C426.9 407.7 430.1 409.1 434.6 410.9 C439.1 412.7 445.6 415.0 449.7 416.3 C453.8 417.6 456.3 418.2 459.0 418.8 C461.7 419.4 462.0 419.4 466.0 419.8 C470.0 420.2 480.0 421.2 482.8 421.5" fill="none" stroke="#c23326" stroke-width="1.25"/>
<path d="M388.2 369.7 l2.3 2.3 l-2.3 2.3 l-2.3 -2.3z" fill="#c23326"/>
<path d="M390.2 373.7 l2.3 2.3 l-2.3 2.3 l-2.3 -2.3z" fill="#c23326"/>
<path d="M392.2 377.2 l2.3 2.3 l-2.3 2.3 l-2.3 -2.3z" fill="#c23326"/>
<path d="M394.2 380.2 l2.3 2.3 l-2.3 2.3 l-2.3 -2.3z" fill="#c23326"/>
<path d="M398.2 384.2 l2.3 2.3 l-2.3 2.3 l-2.3 -2.3z" fill="#c23326"/>
<path d="M398.2 383.0V390.0M395.1 383.0h6.2M395.1 390.0h6.2" fill="none" stroke="#c23326" stroke-width="1.45"/>
<path d="M410.3 388.6V399.5M407.2 388.6h6.2M407.2 399.5h6.2" fill="none" stroke="#c23326" stroke-width="1.45"/>
<path d="M482.8 417.8V424.2M479.7 417.8h6.2M479.7 424.2h6.2" fill="none" stroke="#c23326" stroke-width="1.45"/>
<path d="M410.3 391.4 l3.1 3.1 l-3.1 3.1 l-3.1 -3.1z" fill="#c23326"/>
<path d="M434.2 407.6 l3.1 3.1 l-3.1 3.1 l-3.1 -3.1z" fill="#c23326"/>
<path d="M458.5 415.6 l3.1 3.1 l-3.1 3.1 l-3.1 -3.1z" fill="#c23326"/>
<path d="M482.8 418.9 l2.3 2.3 l-2.3 2.3 l-2.3 -2.3z" fill="#c23326"/>
<text x="435.9" y="430.3" font-size="9" text-anchor="middle">n = 3</text>
<text x="510.0" y="385.1" font-size="9" text-anchor="middle">n = 3</text>
</svg>
</body></html>
